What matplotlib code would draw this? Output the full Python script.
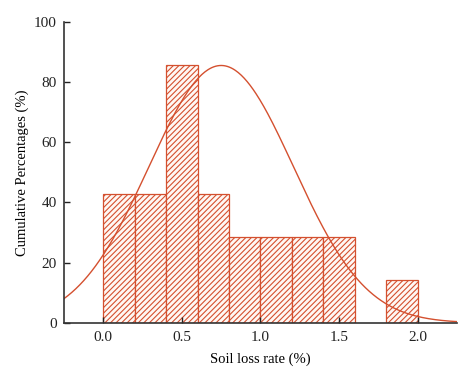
import numpy as np
import matplotlib.pyplot as plt

plt.rcParams['font.family'] = ['Liberation Serif', 'DejaVu Serif']
plt.rcParams['hatch.linewidth'] = 0.8

# histogram bins (soil loss rate, %) and percentages
bin_left = [0.0, 0.2, 0.4, 0.6, 0.8, 1.0, 1.2, 1.4, 1.8]
bin_height = [42.86, 42.86, 85.71, 42.86, 28.57, 28.57, 28.57, 28.57, 14.29]
bin_width = 0.2

# fitted normal curve parameters
fit_mean = 0.75
fit_sd = 0.46
fit_peak = 85.5

red = '#d4502f'

fig, ax = plt.subplots(figsize=(4.74, 3.83), dpi=100)
fig.subplots_adjust(left=0.135, right=0.964, bottom=0.157, top=0.943)

ax.bar(bin_left, bin_height, width=bin_width, align='edge',
       facecolor='#fff8f4', edgecolor=red, linewidth=0.9, hatch='//////')

xs = np.linspace(-0.25, 2.25, 400)
ys = fit_peak * np.exp(-(xs - fit_mean) ** 2 / (2 * fit_sd ** 2))
ax.plot(xs, ys, color=red, linewidth=1.0)

ax.set_xlim(-0.25, 2.25)
ax.set_ylim(0, 100)
ax.set_xticks([0.0, 0.5, 1.0, 1.5, 2.0])
ax.set_xticklabels(['0.0', '0.5', '1.0', '1.5', '2.0'])
ax.set_yticks([0, 20, 40, 60, 80, 100])

for s in ['top', 'right']:
    ax.spines[s].set_visible(False)
for s in ['left', 'bottom']:
    ax.spines[s].set_linewidth(1.2)
    ax.spines[s].set_color('#333333')

ax.tick_params(direction='in', length=4, width=1, colors='#222222', labelsize=11)
ax.tick_params(axis='x', pad=6)
ax.tick_params(axis='y', pad=5)
ax.set_xlabel('Soil loss rate (%)', fontsize=10.5)
ax.set_ylabel('Cumulative Percentages (%)', fontsize=10.5)
ax.xaxis.set_label_coords(0.5, -0.1)
ax.yaxis.set_label_coords(-0.088, 0.5)

plt.savefig('out.png', dpi=100)
